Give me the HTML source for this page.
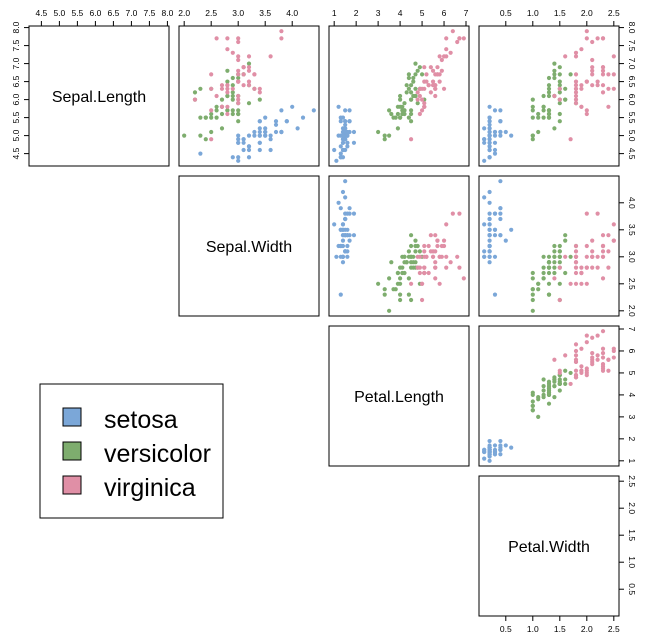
<!DOCTYPE html>
<html><head><meta charset="utf-8"><style>
body{margin:0;background:#fff;width:650px;height:642px;overflow:hidden}
svg{display:block;font-family:"Liberation Sans",sans-serif}
</style></head><body>
<svg id="chart" width="650" height="642" viewBox="0 0 650 642" xmlns="http://www.w3.org/2000/svg">
<g>
<rect x="40" y="384" width="183" height="134" fill="#fff" stroke="#000" stroke-width="1"/>
<rect x="63" y="408" width="18" height="18" fill="#7BA7D8" stroke="#000"/>
<text x="104" y="428" font-size="25">setosa</text>
<rect x="63" y="442" width="18" height="18" fill="#7EAD6E" stroke="#000"/>
<text x="104" y="462" font-size="25">versicolor</text>
<rect x="63" y="476" width="18" height="18" fill="#E08FA6" stroke="#000"/>
<text x="104" y="496" font-size="25">virginica</text>
</g>
</svg>
<script>
const varNames = ["Sepal.Length","Sepal.Width","Petal.Length","Petal.Width"];
const speciesNames = ["setosa","versicolor","virginica"];
const speciesColors = ["#7BA7D8","#7EAD6E","#E08FA6"];
const tickLabels = [
 ["4.5","5.0","5.5","6.0","6.5","7.0","7.5","8.0"],
 ["2.0","2.5","3.0","3.5","4.0"],
 ["1","2","3","4","5","6","7"],
 ["0.5","1.0","1.5","2.0","2.5"]
];
const sepalLength = [5.1,4.9,4.7,4.6,5.0,5.4,4.6,5.0,4.4,4.9,5.4,4.8,4.8,4.3,5.8,5.7,5.4,5.1,5.7,5.1,5.4,5.1,4.6,5.1,4.8,5.0,5.0,5.2,5.2,4.7,4.8,5.4,5.2,5.5,4.9,5.0,5.5,4.9,4.4,5.1,5.0,4.5,4.4,5.0,5.1,4.8,5.1,4.6,5.3,5.0,
7.0,6.4,6.9,5.5,6.5,5.7,6.3,4.9,6.6,5.2,5.0,5.9,6.0,6.1,5.6,6.7,5.6,5.8,6.2,5.6,5.9,6.1,6.3,6.1,6.4,6.6,6.8,6.7,6.0,5.7,5.5,5.5,5.8,6.0,5.4,6.0,6.7,6.3,5.6,5.5,5.5,6.1,5.8,5.0,5.6,5.7,5.7,6.2,5.1,5.7,
6.3,5.8,7.1,6.3,6.5,7.6,4.9,7.3,6.7,7.2,6.5,6.4,6.8,5.7,5.8,6.4,6.5,7.7,7.7,6.0,6.9,5.6,7.7,6.3,6.7,7.2,6.2,6.1,6.4,7.2,7.4,7.9,6.4,6.3,6.1,7.7,6.3,6.4,6.0,6.9,6.7,6.9,5.8,6.8,6.7,6.7,6.3,6.5,6.2,5.9];
const sepalWidth = [3.5,3.0,3.2,3.1,3.6,3.9,3.4,3.4,2.9,3.1,3.7,3.4,3.0,3.0,4.0,4.4,3.9,3.5,3.8,3.8,3.4,3.7,3.6,3.3,3.4,3.0,3.4,3.5,3.4,3.2,3.1,3.4,4.1,4.2,3.1,3.2,3.5,3.6,3.0,3.4,3.5,2.3,3.2,3.5,3.8,3.0,3.8,3.2,3.7,3.3,
3.2,3.2,3.1,2.3,2.8,2.8,3.3,2.4,2.9,2.7,2.0,3.0,2.2,2.9,2.9,3.1,3.0,2.7,2.2,2.5,3.2,2.8,2.5,2.8,2.9,3.0,2.8,3.0,2.9,2.6,2.4,2.4,2.7,2.7,3.0,3.4,3.1,2.3,3.0,2.5,2.6,3.0,2.6,2.3,2.7,3.0,2.9,2.9,2.5,2.8,
3.3,2.7,3.0,2.9,3.0,3.0,2.5,2.9,2.5,3.6,3.2,2.7,3.0,2.5,2.8,3.2,3.0,3.8,2.6,2.2,3.2,2.8,2.8,2.7,3.3,3.2,2.8,3.0,2.8,3.0,2.8,3.8,2.8,2.8,2.6,3.0,3.4,3.1,3.0,3.1,3.1,3.1,2.7,3.2,3.3,3.0,2.5,3.0,3.4,3.0];
const petalLength = [1.4,1.4,1.3,1.5,1.4,1.7,1.4,1.5,1.4,1.5,1.5,1.6,1.4,1.1,1.2,1.5,1.3,1.4,1.7,1.5,1.7,1.5,1.0,1.7,1.9,1.6,1.6,1.5,1.4,1.6,1.6,1.5,1.5,1.4,1.5,1.2,1.3,1.4,1.3,1.5,1.3,1.3,1.3,1.6,1.9,1.4,1.6,1.4,1.5,1.4,
4.7,4.5,4.9,4.0,4.6,4.5,4.7,3.3,4.6,3.9,3.5,4.2,4.0,4.7,3.6,4.4,4.5,4.1,4.5,3.9,4.8,4.0,4.9,4.7,4.3,4.4,4.8,5.0,4.5,3.5,3.8,3.7,3.9,5.1,4.5,4.5,4.7,4.4,4.1,4.0,4.4,4.6,4.0,3.3,4.2,4.2,4.2,4.3,3.0,4.1,
6.0,5.1,5.9,5.6,5.8,6.6,4.5,6.3,5.8,6.1,5.1,5.3,5.5,5.0,5.1,5.3,5.5,6.7,6.9,5.0,5.7,4.9,6.7,4.9,5.7,6.0,4.8,4.9,5.6,5.8,6.1,6.4,5.6,5.1,5.6,6.1,5.6,5.5,4.8,5.4,5.6,5.1,5.1,5.9,5.7,5.2,5.0,5.2,5.4,5.1];
const petalWidth = [0.2,0.2,0.2,0.2,0.2,0.4,0.3,0.2,0.2,0.1,0.2,0.2,0.1,0.1,0.2,0.4,0.4,0.3,0.3,0.3,0.2,0.4,0.2,0.5,0.2,0.2,0.4,0.2,0.2,0.2,0.2,0.4,0.1,0.2,0.2,0.2,0.2,0.1,0.2,0.2,0.3,0.3,0.2,0.6,0.4,0.3,0.2,0.2,0.2,0.2,
1.4,1.5,1.5,1.3,1.5,1.3,1.6,1.0,1.3,1.4,1.0,1.5,1.0,1.4,1.3,1.4,1.5,1.0,1.5,1.1,1.8,1.3,1.5,1.2,1.3,1.4,1.4,1.7,1.5,1.0,1.1,1.0,1.2,1.6,1.5,1.6,1.5,1.3,1.3,1.3,1.2,1.4,1.2,1.0,1.3,1.2,1.3,1.3,1.1,1.3,
2.5,1.9,2.1,1.8,2.2,2.1,1.7,1.8,1.8,2.5,2.0,1.9,2.1,2.0,2.4,2.3,1.8,2.2,2.3,1.5,2.3,2.0,2.0,1.8,2.1,1.8,1.8,1.8,2.1,1.6,1.9,2.0,2.2,1.5,1.4,2.3,2.4,1.8,1.8,2.1,2.4,2.3,1.9,2.3,2.5,2.3,1.9,2.0,2.3,1.8];

const NS="http://www.w3.org/2000/svg";
const svg=document.getElementById('chart');
const cols=[sepalLength,sepalWidth,petalLength,petalWidth];
const species=sepalLength.map((_,i)=>Math.floor(i/50));
const PX=[29,179,329,479], PY=[26,176,326,476], PS=140;
function rng(a){const mn=Math.min(...a),mx=Math.max(...a),e=(mx-mn)*0.04;return [mn-e,mx+e];}
const ranges=cols.map(rng);
function sx(v,j){const r=ranges[j];return PX[j]+(v-r[0])/(r[1]-r[0])*PS;}
function sy(v,i){const r=ranges[i];return PY[i]+PS-(v-r[0])/(r[1]-r[0])*PS;}
function mk(tag,at){const e=document.createElementNS(NS,tag);for(const k in at)e.setAttribute(k,at[k]);svg.appendChild(e);return e;}
const fs=8.5;
for(let i=0;i<4;i++){for(let j=i;j<4;j++){
 const b=mk('rect',{x:PX[j],y:PY[i],width:PS,height:PS,fill:'none',stroke:'#000','stroke-width':1});
 
 
 if(i===j){
  const t=mk('text',{x:PX[j]+PS/2,y:PY[i]+PS/2+6,'font-size':16,'text-anchor':'middle'});
  t.textContent=varNames[i];
  
  
 } else {
  for(let k=0;k<cols[0].length;k++){
   const c=mk('circle',{cx:sx(cols[j][k],j),cy:sy(cols[i][k],i),r:2.1,fill:speciesColors[species[k]]});
   
   
  }
 }
}}
function axisTop(j){tickLabels[j].forEach(l=>{const x=sx(parseFloat(l),j);
 mk('line',{x1:x,x2:x,y1:PY[0]-5,y2:PY[0],stroke:'#000'});
 const t=mk('text',{x:x,y:PY[0]-10,'font-size':fs,'text-anchor':'middle'});t.textContent=l;
 
 });}
function axisBottom(j){const y0=PY[3]+PS;tickLabels[j].forEach(l=>{const x=sx(parseFloat(l),j);
 mk('line',{x1:x,x2:x,y1:y0,y2:y0+5,stroke:'#000'});
 const t=mk('text',{x:x,y:y0+16,'font-size':fs,'text-anchor':'middle'});t.textContent=l;
 
 });}
function axisRight(i){const x0=PX[3]+PS;tickLabels[i].forEach(l=>{const y=sy(parseFloat(l),i);
 mk('line',{x1:x0,x2:x0+5,y1:y,y2:y,stroke:'#000'});
 const t=mk('text',{x:0,y:0,'font-size':fs,'text-anchor':'middle',transform:`translate(${x0+10},${y}) rotate(90)`});t.textContent=l;
 
 });}
function axisLeft(i){const x0=PX[0];tickLabels[i].forEach(l=>{const y=sy(parseFloat(l),i);
 mk('line',{x1:x0-5,x2:x0,y1:y,y2:y,stroke:'#000'});
 const t=mk('text',{x:0,y:0,'font-size':fs,'text-anchor':'middle',transform:`translate(${x0-10},${y}) rotate(-90)`});t.textContent=l;
 
 });}
for(let j=0;j<4;j++)axisTop(j);
for(let i=0;i<4;i++)axisRight(i);
axisLeft(0);axisBottom(3);
</script>
</body></html>
